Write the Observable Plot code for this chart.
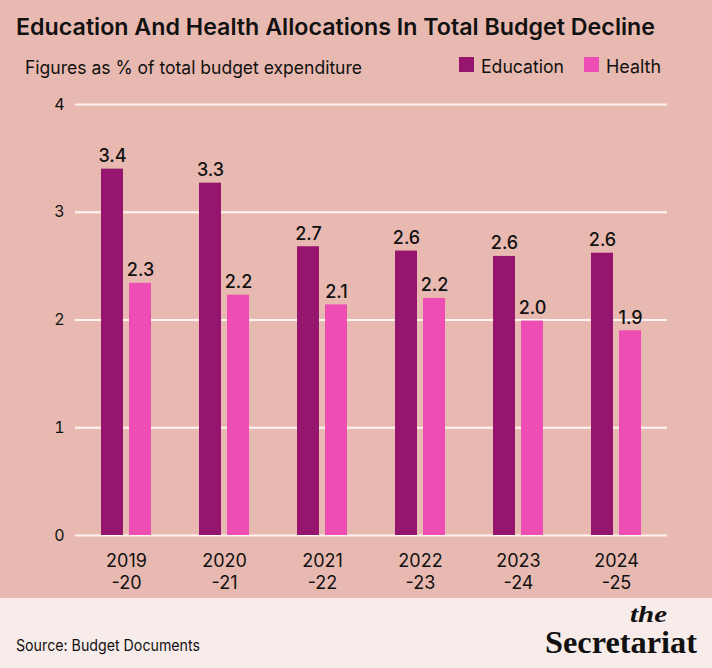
<!DOCTYPE html>
<html>
<head>
<meta charset="utf-8">
<script src="https://cdn.jsdelivr.net/npm/d3@7"></script>
<script src="https://cdn.jsdelivr.net/npm/@observablehq/plot@0.6"></script>
<style>
  html, body { margin: 0; padding: 0; background: #e8b9b0; }
  #page { position: relative; width: 712px; height: 668px; background: #e8b9b0; overflow: hidden; font-family: Inter, "Noto Sans", sans-serif; color: #111; }
  .t { position: absolute; white-space: nowrap; line-height: 1; transform-origin: 0 0; }
  #chart { position: absolute; left: 0; top: 90px; }
  #footer { position: absolute; left: 0; top: 598px; width: 712px; height: 70px; background: #f8ecea; }
  .sw { position: absolute; width: 15px; height: 14.5px; }
</style>
</head>
<body>
<div id="page">
  <div class="t" id="title" data-w="639" style="left:16px; top:16.3px; font-size:22.5px; font-weight:600;">Education And Health Allocations In Total Budget Decline</div>
  <div class="t" id="subtitle" data-w="337" style="left:25px; top:57.5px; font-size:18.3px;">Figures as % of total budget expenditure</div>
  <div class="sw" style="left:459px; top:57.3px; background:#96156f;"></div>
  <div class="t" id="leg1" data-w="83" style="left:481px; top:57px; font-size:18.3px;">Education</div>
  <div class="sw" style="left:584px; top:57.3px; background:#ee4db4;"></div>
  <div class="t" id="leg2" data-w="55" style="left:605.5px; top:57px; font-size:18.3px;">Health</div>
  <div id="chart"></div>
  <div id="footer"></div>
  <div class="t" id="source" data-w="184" style="left:15.7px; top:637px; font-size:16px;">Source: Budget Documents</div>
  <div class="t" id="the" data-w="37" style="left:630px; top:603px; font-size:23px; font-family:'Liberation Serif', serif; font-style:italic; font-weight:700;">the</div>
  <div class="t" id="logo" data-w="152" style="left:545px; top:627px; font-size:31px; font-family:'Liberation Serif', serif; font-weight:700;">Secretariat</div>
</div>
<script>
// Data
const years = ["2019-20", "2020-21", "2021-22", "2022-23", "2023-24", "2024-25"];
const tickLabels = ["2019\n-20", "2020\n-21", "2021\n-22", "2022\n-23", "2023\n-24", "2024\n-25"];
const education = [3.40, 3.27, 2.68, 2.64, 2.59, 2.62];
const health = [2.34, 2.23, 2.14, 2.20, 1.99, 1.90];
const yTicks = [0, 1, 2, 3, 4];

const eduColor = "#96156f";
const healthColor = "#ee4db4";

const rows = years.map((y, i) => ({year: y, education: education[i], health: health[i]}));
const labelOf = new Map(years.map((y, i) => [y, tickLabels[i]]));

const chart = Plot.plot({
  width: 712,
  height: 508,
  marginTop: 14,
  marginBottom: 63,
  marginLeft: 75,
  marginRight: 45,
  style: {background: "transparent", fontFamily: "Inter, 'Noto Sans', sans-serif", color: "#111", overflow: "visible"},
  x: {domain: years, paddingInner: 0.49, paddingOuter: 0.25, axis: null, label: null},
  y: {domain: [0, 4], axis: null, label: null},
  marks: [
    Plot.gridY(yTicks, {stroke: "#fff6f4", strokeOpacity: 1, strokeWidth: 2}),
    Plot.axisY(yTicks, {tickSize: 0, tickPadding: 11, fontSize: 16, fill: "#111", label: null, tickFormat: d => String(d)}),
    Plot.axisX({tickSize: 0, tickPadding: 17, fontSize: 18, lineHeight: 1.17, fill: "#111", label: null, tickFormat: d => labelOf.get(d)}),
    Plot.barY(rows, {x: "year", y: "education", fill: eduColor, insetRight: 28}),
    Plot.barY(rows, {x: "year", y: "health", fill: healthColor, insetLeft: 28}),
    Plot.text(rows, {x: "year", y: "education", text: d => d.education.toFixed(1), dx: -14, dy: -7, lineAnchor: "bottom", fontSize: 18, fontWeight: 500, fill: "#111"}),
    Plot.text(rows, {x: "year", y: "health", text: d => d.health.toFixed(1), dx: 14, dy: -7, lineAnchor: "bottom", fontSize: 18, fontWeight: 500, fill: "#111"})
  ]
});
document.getElementById("chart").appendChild(chart);

// Fit header/footer texts horizontally to their target widths
document.querySelectorAll(".t[data-w]").forEach(el => {
  const target = +el.dataset.w;
  const w = el.getBoundingClientRect().width;
  if (w > 0) el.style.transform = `scaleX(${target / w})`;
});
</script>
</body>
</html>
